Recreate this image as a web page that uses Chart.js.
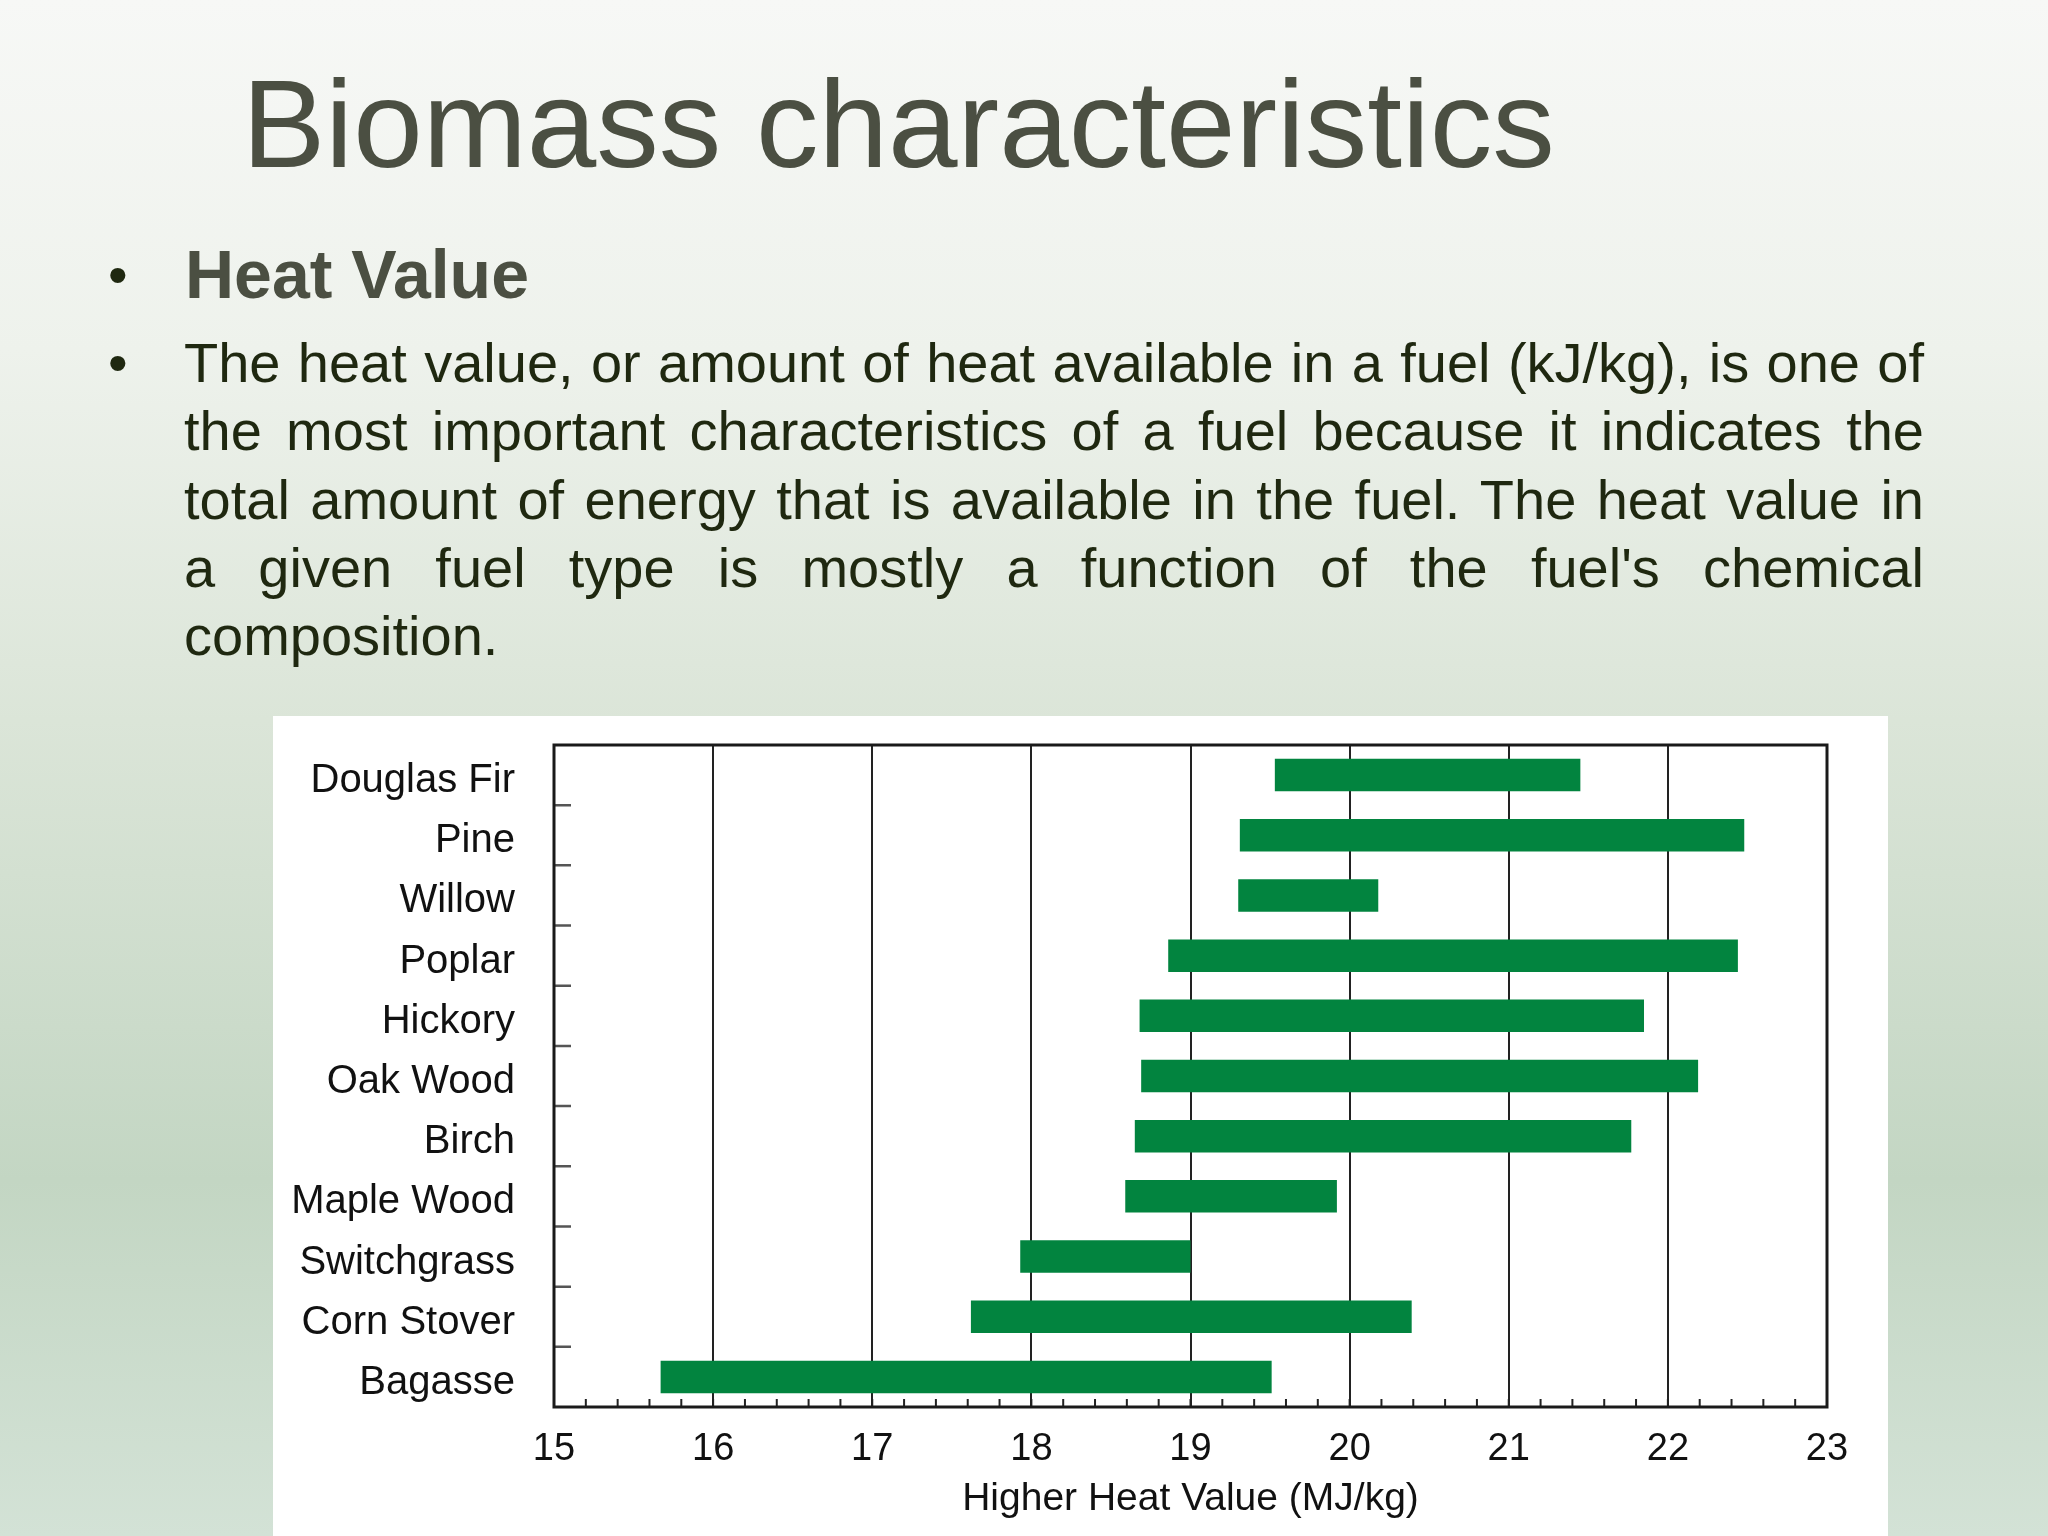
<!DOCTYPE html>
<html>
<head>
<meta charset="utf-8">
<script src="https://cdn.jsdelivr.net/npm/chart.js@4"></script>
<style>
  html, body { margin: 0; padding: 0; }
  body {
    width: 2048px; height: 1536px; overflow: hidden; position: relative;
    font-family: "Liberation Sans", Arial, sans-serif;
    background: linear-gradient(to bottom, #f7f8f6 0px, #eef2ec 350px, #dbe5d8 720px, #c3d6c3 1180px, #d3e2d6 1536px);
  }
  .title { position: absolute; left: 242px; top: 61px; font-size: 125px; line-height: 1; color: #4b4f42; white-space: nowrap; }
  .bullet { position: absolute; left: 108px; color: #4b4f42; }
  .head { position: absolute; left: 185px; top: 240px; font-size: 68px; line-height: 1; font-weight: bold; color: #4b4f42; white-space: nowrap; }
  .body { position: absolute; left: 184px; top: 329px; width: 1740px; font-size: 56px; line-height: 68.3px; color: #1f2810; }
  .body div { text-align: justify; text-align-last: justify; }
  .body div.last { text-align-last: left; }
  #box { position: absolute; left: 273px; top: 716px; width: 1615px; height: 820px; background: #ffffff; }
</style>
</head>
<body>
<div class="title">Biomass characteristics</div>
<div class="bullet" style="top:241px;font-size:56px;line-height:67px;color:#1f2810">•</div>
<div class="head">Heat Value</div>
<div class="bullet" style="top:329px;font-size:56px;line-height:68.3px;color:#1f2810">•</div>
<div class="body">
  <div>The heat value, or amount of heat available in a fuel (kJ/kg), is one of</div>
  <div>the most important characteristics of a fuel because it indicates the</div>
  <div>total amount of energy that is available in the fuel. The heat value in</div>
  <div>a given fuel type is mostly a function of the fuel's chemical</div>
  <div class="last">composition.</div>
</div>
<div id="box"><canvas id="myChart" width="1615" height="820"></canvas></div>
<script>
const fuels = ['Douglas Fir', 'Pine', 'Willow', 'Poplar', 'Hickory', 'Oak Wood', 'Birch', 'Maple Wood', 'Switchgrass', 'Corn Stover', 'Bagasse'];
const hhvLow = [19.53, 19.31, 19.30, 18.86, 18.68, 18.69, 18.65, 18.59, 17.93, 17.62, 15.67];
const hhvHigh = [21.45, 22.48, 20.18, 22.44, 21.85, 22.19, 21.77, 19.92, 19.00, 20.39, 19.51];
const xMin = 15;
const xMax = 23;
const axisTitle = 'Higher Heat Value (MJ/kg)';

const ranges = fuels.map((f, i) => [hhvLow[i], hhvHigh[i]]);

// frame round the plot + small inward tick marks
const frameTicks = {
    id: 'frameTicks',
    afterDraw(chart) {
        const {ctx, chartArea: a, scales: {x, y}} = chart;
        ctx.save();
        ctx.strokeStyle = '#555';
        ctx.lineWidth = 2.5;
        ctx.beginPath();
        for (let i = 0; i < fuels.length - 1; i++) {
            const py = (y.getPixelForValue(i) + y.getPixelForValue(i + 1)) / 2;
            ctx.moveTo(a.left, py);
            ctx.lineTo(a.left + 17, py);
        }
        ctx.stroke();
        ctx.strokeStyle = '#222';
        ctx.lineWidth = 2;
        ctx.beginPath();
        for (let k = 1; k < (xMax - xMin) * 5; k++) {
            const px = x.getPixelForValue(xMin + k / 5);
            ctx.moveTo(px, a.bottom);
            ctx.lineTo(px, a.bottom - 8);
        }
        ctx.stroke();
        ctx.strokeStyle = '#1a1a1a';
        ctx.lineWidth = 3;
        ctx.strokeRect(a.left, a.top, a.right - a.left, a.bottom - a.top);
        ctx.restore();
    }
};

const ctx = document.getElementById('myChart').getContext('2d');
const myChart = new Chart(ctx, {
    type: 'bar',
    data: {
        labels: fuels,
        datasets: [{
            label: 'HHV',
            data: ranges,
            backgroundColor: '#02843f',
            borderWidth: 0,
            borderSkipped: false,
            barPercentage: 0.54,
            categoryPercentage: 1
        }]
    },
    options: {
        indexAxis: 'y',
        responsive: false,
        animation: false,
        layout: { padding: { top: 29, right: 61, left: 0, bottom: 0 } },
        plugins: {
            legend: { display: false },
            tooltip: { enabled: false }
        },
        scales: {
            x: {
                type: 'linear',
                min: xMin,
                max: xMax,
                ticks: {
                    stepSize: 1,
                    padding: 20,
                    color: '#111',
                    font: { family: 'Liberation Sans', size: 38 }
                },
                grid: { color: '#222', lineWidth: 2, drawTicks: false },
                border: { display: false },
                title: {
                    display: true,
                    text: axisTitle,
                    color: '#111',
                    font: { family: 'Liberation Sans', size: 39 },
                    padding: { top: 0, bottom: 13 }
                },
                afterFit: (scale) => { scale.height = 129; }
            },
            y: {
                ticks: {
                    padding: 39,
                    labelOffset: 6,
                    color: '#111',
                    font: { family: 'Liberation Sans', size: 40 }
                },
                grid: { display: false, drawTicks: false },
                border: { display: false },
                afterFit: (scale) => {
                    scale.width = 281;
                    scale.paddingTop = 0;
                    scale.paddingBottom = 0;
                }
            }
        }
    },
    plugins: [frameTicks]
});
</script>
</body>
</html>
